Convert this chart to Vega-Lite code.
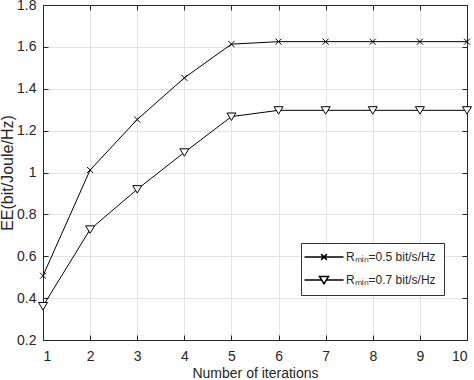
{
  "$schema": "https://vega.github.io/schema/vega-lite/v6.json",
  "width": 424,
  "height": 335,
  "autosize": "none",
  "padding": {"left": 43, "top": 5, "right": 7, "bottom": 40},
  "background": "white",
  "config": {
    "font": "Liberation Sans",
    "view": {"stroke": null},
    "axis": {
      "labelFont": "Liberation Sans",
      "titleFont": "Liberation Sans",
      "labelColor": "#262626",
      "titleColor": "#262626",
      "labelFontSize": 14,
      "titleFontSize": 14,
      "titleFontWeight": "normal",
      "domainColor": "#262626",
      "domainWidth": 1,
      "tickColor": "#262626",
      "tickSize": -5,
      "gridColor": "#e3e3e3",
      "gridWidth": 1
    },
    "legend": {
      "labelFont": "Liberation Sans",
      "labelFontSize": 12,
      "labelColor": "#262626"
    }
  },
  "datasets": {
    "ee": [
      {"iter": 1, "ee": 0.507, "series": "0.5"},
      {"iter": 2, "ee": 1.012, "series": "0.5"},
      {"iter": 3, "ee": 1.253, "series": "0.5"},
      {"iter": 4, "ee": 1.452, "series": "0.5"},
      {"iter": 5, "ee": 1.613, "series": "0.5"},
      {"iter": 6, "ee": 1.625, "series": "0.5"},
      {"iter": 7, "ee": 1.625, "series": "0.5"},
      {"iter": 8, "ee": 1.625, "series": "0.5"},
      {"iter": 9, "ee": 1.625, "series": "0.5"},
      {"iter": 10, "ee": 1.625, "series": "0.5"},
      {"iter": 1, "ee": 0.362, "series": "0.7"},
      {"iter": 2, "ee": 0.728, "series": "0.7"},
      {"iter": 3, "ee": 0.92, "series": "0.7"},
      {"iter": 4, "ee": 1.096, "series": "0.7"},
      {"iter": 5, "ee": 1.267, "series": "0.7"},
      {"iter": 6, "ee": 1.297, "series": "0.7"},
      {"iter": 7, "ee": 1.297, "series": "0.7"},
      {"iter": 8, "ee": 1.297, "series": "0.7"},
      {"iter": 9, "ee": 1.297, "series": "0.7"},
      {"iter": 10, "ee": 1.297, "series": "0.7"}
    ]
  },
  "data": {"name": "ee"},
  "layer": [
    {
      "mark": {"type": "line", "color": "black", "strokeWidth": 1},
      "encoding": {
        "x": {
          "field": "iter", "type": "quantitative",
          "scale": {"domain": [1, 10], "nice": false, "zero": false},
          "axis": {"values": [1,2,3,4,5,6,7,8,9,10], "format": "d", "title": "Number of iterations", "grid": true, "labelPadding": 14, "titlePadding": 3}
        },
        "y": {
          "field": "ee", "type": "quantitative",
          "scale": {"domain": [0.2, 1.8], "nice": false, "zero": false},
          "axis": {"values": [0.2,0.4,0.6,0.8,1,1.2,1.4,1.6,1.8], "format": ".1~f", "title": "EE(bit/Joule/Hz)", "titleFontSize": 16, "grid": true, "labelPadding": 12, "titlePadding": 1}
        },
        "detail": {"field": "series"}
      }
    },
    {
      "mark": {"type": "point", "filled": true, "fill": "white", "stroke": "black", "strokeWidth": 1, "opacity": 1},
      "encoding": {
        "x": {
          "field": "iter", "type": "quantitative",
          "axis": {"orient": "top", "values": [1,2,3,4,5,6,7,8,9,10], "labels": false, "grid": false, "title": null}
        },
        "y": {
          "field": "ee", "type": "quantitative",
          "axis": {"orient": "right", "values": [0.2,0.4,0.6,0.8,1,1.2,1.4,1.6,1.8], "labels": false, "grid": false, "title": null}
        },
        "shape": {
          "field": "series", "type": "nominal",
          "scale": {"domain": ["0.5", "0.7"], "range": ["M-1,-1L1,1M-1,1L1,-1", "M-1,-0.8L1,-0.8L0,0.85Z"]},
          "legend": null
        },
        "size": {
          "field": "series", "type": "nominal",
          "scale": {"domain": ["0.5", "0.7"], "range": [36, 81]},
          "legend": null
        }
      }
    },
    {
      "data": {"values": []},
      "mark": {"type": "point", "filled": true, "fill": "white", "stroke": "black", "strokeWidth": 1, "opacity": 1},
      "encoding": {
        "x": {"field": "iter", "type": "quantitative", "axis": null},
        "y": {"field": "ee", "type": "quantitative", "axis": null},
        "shape": {
          "field": "label", "type": "nominal",
          "scale": {
            "domain": ["R\u2098\u1d62\u2099=0.5 bit/s/Hz", "R\u2098\u1d62\u2099=0.7 bit/s/Hz"],
            "range": ["M-3.9,0L3.9,0M-0.58,-0.58L0.58,0.58M-0.58,0.58L0.58,-0.58", "M-3.9,0L-0.47,0M0.47,0L3.9,0M-0.9,-0.7L0.9,-0.7L0,0.78Z"]
          },
          "legend": {
            "title": null,
            "orient": "none",
            "legendX": 258,
            "legendY": 238,
            "symbolSize": 100,
            "symbolOffset": 9,
            "fillColor": "white",
            "strokeColor": "#333333",
            "padding": 8,
            "rowPadding": 10,
            "labelOffset": 16
          }
        }
      }
    }
  ],
  "resolve": {
    "axis": {"x": "independent", "y": "independent"},
    "scale": {"shape": "independent", "size": "independent"}
  }
}
